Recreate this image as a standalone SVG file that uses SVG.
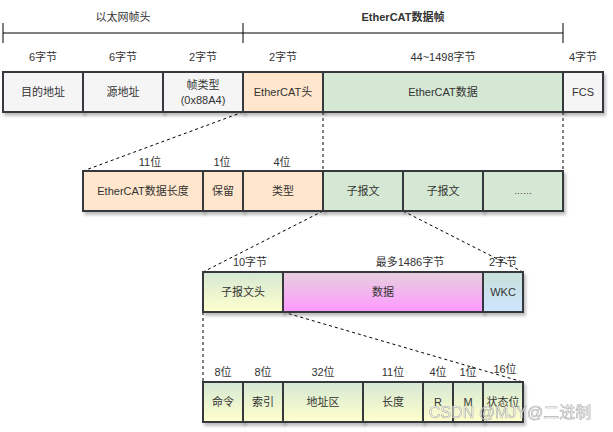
<svg xmlns="http://www.w3.org/2000/svg" width="613" height="432" viewBox="0 0 613 432">
<defs>
<linearGradient id="gy" x1="0" y1="0" x2="0" y2="1"><stop offset="0" stop-color="#d5e8d4"/><stop offset="1" stop-color="#ffffcc"/></linearGradient>
<linearGradient id="pk" x1="0" y1="0" x2="0" y2="1"><stop offset="0" stop-color="#e6d0de"/><stop offset="1" stop-color="#ff99ff"/></linearGradient>
<linearGradient id="bl" x1="0" y1="0" x2="0" y2="1"><stop offset="0" stop-color="#c9dfd9"/><stop offset="1" stop-color="#cce5ff"/></linearGradient>
<filter id="sh" x="-10%" y="-10%" width="130%" height="140%"><feDropShadow dx="2" dy="3" stdDeviation="1.5" flood-color="#000" flood-opacity="0.25"/></filter>
</defs>
<style>
text{font-family:"Liberation Sans","Noto Sans CJK SC",sans-serif;font-size:11px;fill:#333;text-anchor:middle;dominant-baseline:central}
.b{stroke:#36393d;stroke-width:2;filter:url(#sh)}
.g{fill:#f5f5f5}.o{fill:#ffe6cc}.gr{fill:#d5e8d4}.gy{fill:url(#gy)}
.d{stroke:#000;stroke-width:1;stroke-dasharray:3 3;fill:none}
.bold{font-weight:bold}
</style>
<g id="connectors">
<path d="M3 33H563M3 23V43M243 23V43M563 23V43" stroke="#000" fill="none"/>
<path class="d" d="M243 112L83 171M323 112V171M563 112V171M323 211L203 272M403 211L523 272M203 312V382M283 312L523 382"/>
</g>
<g id="headers">
<text x="123" y="17">以太网帧头</text>
<text x="403" y="17" class="bold">EtherCAT数据帧</text>
</g>
<g id="row1">
<text x="43" y="57">6字节</text><text x="123" y="57">6字节</text><text x="203" y="57">2字节</text><text x="283" y="57">2字节</text><text x="443" y="57">44~1498字节</text><text x="583" y="57">4字节</text>
<g id="n1"><rect class="b g" x="3" y="72" width="80" height="40"/><text x="43" y="92">目的地址</text></g>
<g id="n2"><rect class="b g" x="83" y="72" width="80" height="40"/><text x="123" y="92">源地址</text></g>
<g id="n3"><rect class="b g" x="163" y="72" width="80" height="40"/><text x="203" y="85">帧类型</text><text x="203" y="100">(0x88A4)</text></g>
<g id="n4"><rect class="b o" x="243" y="72" width="80" height="40"/><text x="283" y="92">EtherCAT头</text></g>
<g id="n5"><rect class="b gr" x="323" y="72" width="240" height="40"/><text x="443" y="92">EtherCAT数据</text></g>
<g id="n6"><rect class="b g" x="563" y="72" width="40" height="40"/><text x="583" y="92">FCS</text></g>
</g>
<g id="row2">
<text x="150" y="162">11位</text><text x="222" y="162">1位</text><text x="282" y="162">4位</text>
<g id="m1"><rect class="b o" x="83" y="171" width="120" height="40"/><text x="143" y="191">EtherCAT数据长度</text></g>
<g id="m2"><rect class="b o" x="203" y="171" width="40" height="40"/><text x="223" y="191">保留</text></g>
<g id="m3"><rect class="b o" x="243" y="171" width="80" height="40"/><text x="283" y="191">类型</text></g>
<g id="m4"><rect class="b gr" x="323" y="171" width="80" height="40"/><text x="363" y="191">子报文</text></g>
<g id="m5"><rect class="b gr" x="403" y="171" width="80" height="40"/><text x="443" y="191">子报文</text></g>
<g id="m6"><rect class="b gr" x="483" y="171" width="80" height="40"/><text x="523" y="191" style="font-size:9px">……</text></g>
</g>
<g id="row3">
<text x="250" y="262">10字节</text><text x="410" y="262">最多1486字节</text><text x="503" y="262">2字节</text>
<g id="s1"><rect class="b gy" x="203" y="272" width="80" height="40"/><text x="243" y="292">子报文头</text></g>
<g id="s2"><rect class="b" fill="url(#pk)" x="283" y="272" width="200" height="40"/><text x="383" y="292">数据</text></g>
<g id="s3"><rect class="b" fill="url(#bl)" x="483" y="272" width="40" height="40"/><text x="503" y="292">WKC</text></g>
</g>
<g id="row4">
<text x="223" y="372">8位</text><text x="263" y="372">8位</text><text x="323" y="372">32位</text><text x="393" y="372">11位</text><text x="438" y="372">4位</text><text x="468" y="372">1位</text><text x="505" y="369">16位</text>
<g id="h1"><rect class="b gy" x="203" y="382" width="40" height="40"/><text x="223" y="402">命令</text></g>
<g id="h2"><rect class="b gy" x="243" y="382" width="40" height="40"/><text x="263" y="402">索引</text></g>
<g id="h3"><rect class="b gy" x="283" y="382" width="80" height="40"/><text x="323" y="402">地址区</text></g>
<g id="h4"><rect class="b gy" x="363" y="382" width="60" height="40"/><text x="393" y="402">长度</text></g>
<g id="h5"><rect class="b gy" x="423" y="382" width="30" height="40"/><text x="438" y="402">R</text></g>
<g id="h6"><rect class="b gy" x="453" y="382" width="30" height="40"/><text x="468" y="402">M</text></g>
<g id="h7"><rect class="b gy" x="483" y="382" width="40" height="40"/><text x="503" y="402">状态位</text></g>
</g>
<text x="510" y="412" style="font-size:16px;fill:#fff;stroke:#999;stroke-width:0.6;opacity:0.8">CSDN @MJY@二进制</text>
</svg>
